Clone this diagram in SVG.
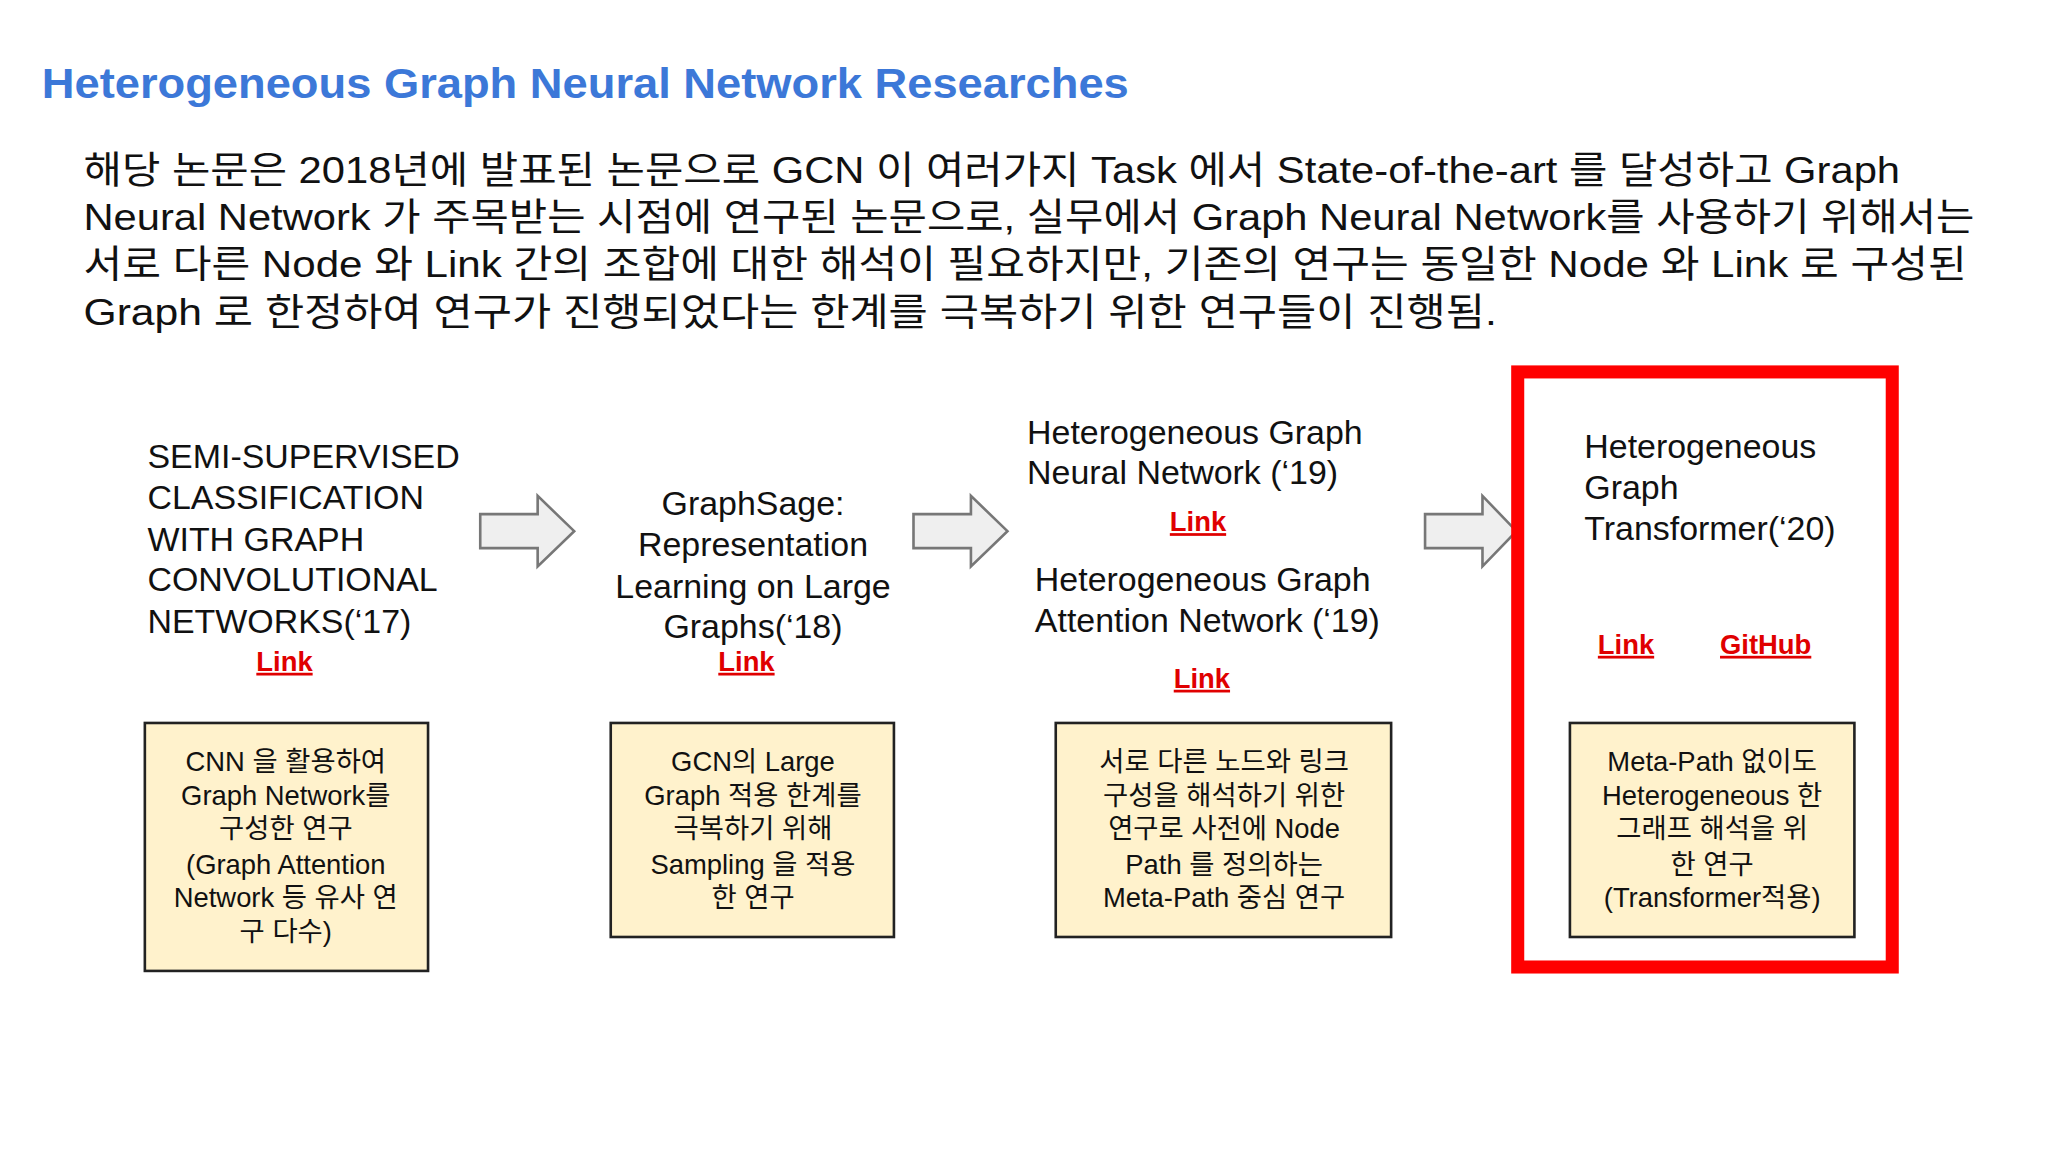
<svg xmlns="http://www.w3.org/2000/svg" width="2048" height="1152" viewBox="0 0 2048 1152">
<style>
text{font-family:"Liberation Sans","Noto Sans CJK KR",sans-serif;fill:#111}
.t{font-size:26px}
.c{text-anchor:middle}
.p{font-size:29px}
.b{font-size:21px}
.lk{fill:#e00000;font-weight:bold;font-size:21px;text-decoration:underline;text-anchor:middle}
.box{fill:#fff2cc;stroke:#222;stroke-width:2}
.arr{fill:#efefef;stroke:#777;stroke-width:2}
</style>
<rect width="2048" height="1152" fill="#fff"/>
<g transform="scale(1.305 1.305)">
<text x="32" y="75" textLength="833" lengthAdjust="spacingAndGlyphs" style="fill:#3c78d8;font-weight:bold;font-size:32px">Heterogeneous Graph Neural Network Researches</text>
<text x="64" y="140" class="p" textLength="1392" lengthAdjust="spacingAndGlyphs">해당 논문은 2018년에 발표된 논문으로 GCN 이 여러가지 Task 에서 State-of-the-art 를 달성하고 Graph</text>
<text x="64" y="176" class="p" textLength="1449" lengthAdjust="spacingAndGlyphs">Neural Network 가 주목받는 시점에 연구된 논문으로, 실무에서 Graph Neural Network를 사용하기 위해서는</text>
<text x="64" y="212" class="p" textLength="1443" lengthAdjust="spacingAndGlyphs">서로 다른 Node 와 Link 간의 조합에 대한 해석이 필요하지만, 기존의 연구는 동일한 Node 와 Link 로 구성된</text>
<text x="64" y="249" class="p" textLength="1083" lengthAdjust="spacingAndGlyphs">Graph 로 한정하여 연구가 진행되었다는 한계를 극복하기 위한 연구들이 진행됨.</text>
<g id="connectors">
<path class="arr" d="M368 394H412V380L440 407L412 434V420H368Z"/>
<path class="arr" d="M700 394H744V380L772 407L744 434V420H700Z"/>
<path class="arr" d="M1092 394H1136V380L1162 407L1136 434V420H1092Z"/>
</g>
<g id="n1">
<text class="t" x="113" y="359">SEMI-SUPERVISED</text>
<text class="t" x="113" y="390">CLASSIFICATION</text>
<text class="t" x="113" y="422">WITH GRAPH</text>
<text class="t" x="113" y="453">CONVOLUTIONAL</text>
<text class="t" x="113" y="485">NETWORKS(‘17)</text>
<text class="lk" x="218" y="514">Link</text>
<rect class="box" x="111" y="554" width="217" height="190"/>
<text class="b c" x="219" y="591">CNN 을 활용하여</text><text class="b c" x="219" y="617">Graph Network를</text><text class="b c" x="219" y="642">구성한 연구</text><text class="b c" x="219" y="670">(Graph Attention</text><text class="b c" x="219" y="695">Network 등 유사 연</text><text class="b c" x="219" y="721">구 다수)</text>
</g>
<g id="n2">
<text class="t c" x="577" y="395">GraphSage:</text>
<text class="t c" x="577" y="426">Representation</text>
<text class="t c" x="577" y="458">Learning on Large</text>
<text class="t c" x="577" y="489">Graphs(‘18)</text>
<text class="lk" x="572" y="514">Link</text>
<rect class="box" x="468" y="554" width="217" height="164"/>
<text class="b c" x="577" y="591">GCN의 Large</text><text class="b c" x="577" y="617">Graph 적용 한계를</text><text class="b c" x="577" y="642">극복하기 위해</text><text class="b c" x="577" y="670">Sampling 을 적용</text><text class="b c" x="577" y="695">한 연구</text>
</g>
<g id="n3">
<text class="t" x="787" y="340">Heterogeneous Graph</text>
<text class="t" x="787" y="371">Neural Network (‘19)</text>
<text class="lk" x="918" y="407">Link</text>
<text class="t" x="793" y="453">Heterogeneous Graph</text>
<text class="t" x="793" y="484">Attention Network (‘19)</text>
<text class="lk" x="921" y="527">Link</text>
<rect class="box" x="809" y="554" width="257" height="164"/>
<text class="b c" x="938" y="591">서로 다른 노드와 링크</text><text class="b c" x="938" y="617">구성을 해석하기 위한</text><text class="b c" x="938" y="642">연구로 사전에 Node</text><text class="b c" x="938" y="670">Path 를 정의하는</text><text class="b c" x="938" y="695">Meta-Path 중심 연구</text>
</g>
<g id="n4">
<rect x="1163" y="285" width="287" height="456" fill="none" stroke="#f00" stroke-width="10"/>
<text class="t" x="1214" y="351">Heterogeneous</text>
<text class="t" x="1214" y="382">Graph</text>
<text class="t" x="1214" y="414">Transformer(‘20)</text>
<text class="lk" x="1246" y="501">Link</text>
<text class="lk" x="1353" y="501">GitHub</text>
<rect class="box" x="1203" y="554" width="218" height="164"/>
<text class="b c" x="1312" y="591">Meta-Path 없이도</text><text class="b c" x="1312" y="617">Heterogeneous 한</text><text class="b c" x="1312" y="642">그래프 해석을 위</text><text class="b c" x="1312" y="670">한 연구</text><text class="b c" x="1312" y="695">(Transformer적용)</text>
</g>
</g>
</svg>
